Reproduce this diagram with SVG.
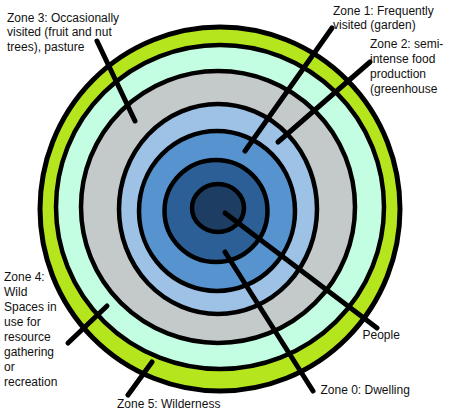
<svg xmlns="http://www.w3.org/2000/svg" width="449" height="414" viewBox="0 0 449 414">
<style>
.ring{stroke:#000;stroke-width:4.5}
.ln{stroke:#000;stroke-width:5;stroke-linecap:round;fill:none}
text{font-family:"Liberation Sans",Arial,sans-serif;font-size:12px;fill:#111}
</style>
<rect width="449" height="414" fill="#fff"/>
<g id="rings">
<ellipse id="c1" class="ring" cx="220" cy="209" rx="180" ry="182" fill="#B5E61D" style="stroke-width:5"/>
<ellipse id="c2" class="ring" cx="220" cy="207" rx="164" ry="162" fill="#C4FEE2"/>
<ellipse id="c3" class="ring" cx="218" cy="207" rx="137" ry="136" fill="#C4CACA"/>
<ellipse id="c4" class="ring" cx="218" cy="209" rx="99" ry="105" fill="#9DC2E5"/>
<ellipse id="c5" class="ring" cx="217" cy="211" rx="78" ry="80" fill="#5793CF"/>
<ellipse id="c6" class="ring" cx="216" cy="211" rx="51.5" ry="51" fill="#2C5F96"/>
<ellipse id="c7" class="ring" cx="218" cy="208" rx="26" ry="24" fill="#1D3E62"/>
</g>
<g id="connectors">
<line class="ln" x1="97" y1="41" x2="135" y2="121"/>
<line class="ln" x1="332" y1="28" x2="245" y2="151"/>
<line class="ln" x1="370" y1="62" x2="278" y2="142"/>
<line class="ln" x1="225" y1="213" x2="377" y2="328"/>
<line class="ln" x1="225" y1="252" x2="313" y2="391"/>
<line class="ln" x1="107" y1="306" x2="68" y2="343"/>
<line class="ln" x1="152" y1="362" x2="128" y2="395"/>
</g>
<g id="zone3"><text x="7" y="21.5">Zone 3: Occasionally</text><text x="7" y="36">visited (fruit and nut</text><text x="7" y="50.5">trees), pasture</text></g>
<g id="zone1"><text x="333" y="14.5">Zone 1: Frequently</text><text x="333" y="29">visited (garden)</text></g>
<g id="zone2"><text x="370" y="48">Zone 2: semi-</text><text x="370" y="63">intense food</text><text x="370" y="78">production</text><text x="370" y="93">(greenhouse</text></g>
<g id="zone4"><text x="4" y="281">Zone 4:</text><text x="4" y="296">Wild</text><text x="4" y="311">Spaces in</text><text x="4" y="326">use for</text><text x="4" y="341">resource</text><text x="4" y="356">gathering</text><text x="4" y="371">or</text><text x="4" y="386">recreation</text></g>
<g id="people"><text x="362.5" y="338.5">People</text></g>
<g id="zone0"><text x="320.5" y="393.5">Zone 0: Dwelling</text></g>
<g id="zone5"><text x="117" y="408">Zone 5: Wilderness</text></g>
</svg>
